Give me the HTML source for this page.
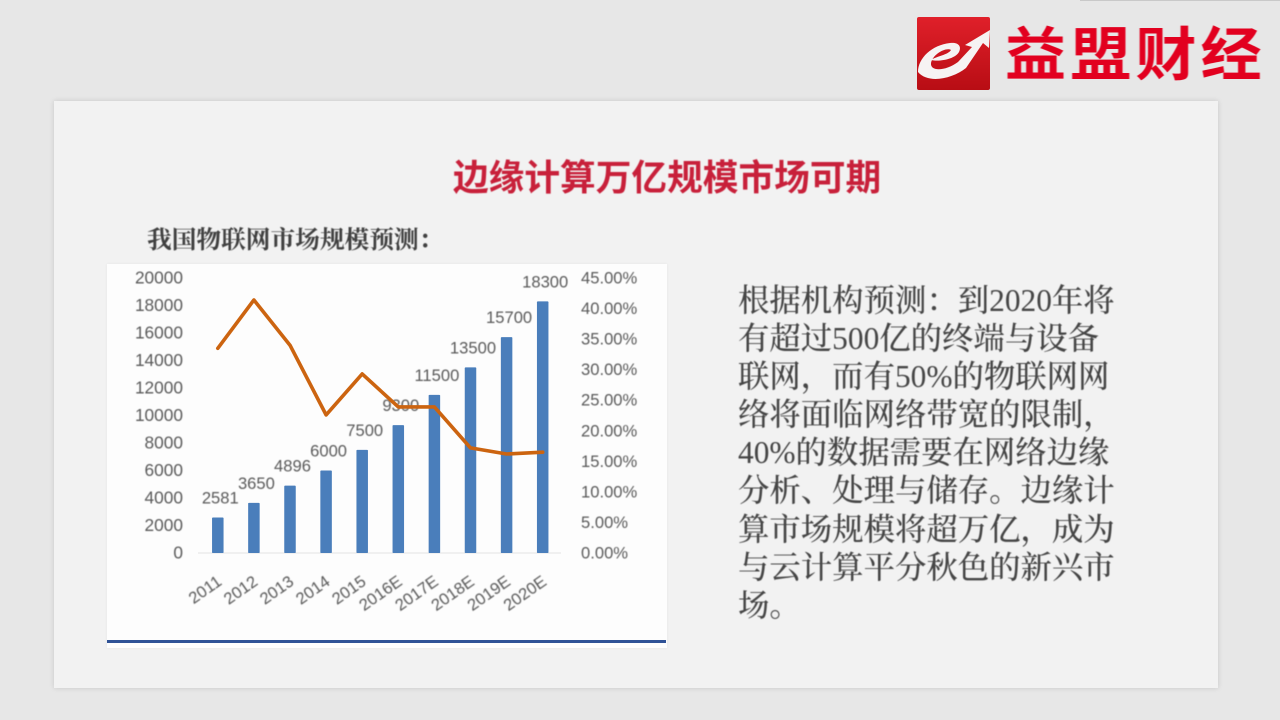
<!DOCTYPE html>
<html lang="zh">
<head>
<meta charset="utf-8">
<title>边缘计算万亿规模市场可期</title>
<style>
html,body{margin:0;padding:0;width:1280px;height:720px;overflow:hidden;background:#e7e7e7}
body{position:relative;font-family:"Liberation Sans","Noto Sans CJK SC",sans-serif}
.abs{position:absolute}
#panel{left:54px;top:101px;width:1164px;height:587px;background:#f2f2f2;box-shadow:0 0 5px rgba(0,0,0,.14)}
#topbar{left:1080px;top:0;width:200px;height:1px;background:#c9c9c9}
#slide-title{left:453px;top:154px;width:440px;font-size:35.7px;line-height:48px;font-weight:700;color:#c8203a;white-space:nowrap;filter:blur(.5px)}
#chart-title{left:147px;top:225px;font-family:"Liberation Serif","Noto Serif CJK SC",serif;font-size:24.7px;line-height:32px;font-weight:700;color:#404040;white-space:nowrap;filter:blur(.6px)}
#chart-bg{left:107px;top:264px;width:560px;height:384px;background:#fdfdfd;box-shadow:0 0 3px rgba(0,0,0,.06)}
#body-text{left:738px;top:282px;width:400px;font-family:"Liberation Serif","Noto Serif CJK SC",serif;font-size:31.4px;line-height:38.1px;color:#454545;font-weight:500;filter:blur(.55px)}
#body-text div{white-space:nowrap}
#chart{left:0;top:0}
#logo{left:916px;top:16px}
#logo-text{left:1005px;top:24px;font-size:59px;line-height:64px;font-weight:700;color:#e2001f;white-space:nowrap;letter-spacing:4px;filter:blur(.4px);transform-origin:0 0;transform:scale(1.035,.98)}
</style>
</head>
<body>
<div class="abs" id="topbar"></div>
<div class="abs" id="panel"></div>

<svg class="abs" id="logo" width="76" height="76" viewBox="0 0 76 76">
  <defs>
    <linearGradient id="logoRed" x1="0" y1="0" x2="0" y2="1">
      <stop offset="0" stop-color="#e0202a"/><stop offset="1" stop-color="#b80d14"/>
    </linearGradient>
  </defs>
  <rect x="1" y="1" width="73" height="73" rx="2" fill="url(#logoRed)"/>
  <path d="M2 56 C2 42 16 29 34 27 C42 26 46 30 43 36 C39 43 24 46 15 44 C21 40 32 39 35 34 C30 31 17 38 15 47 C14 56 30 55 42 46 L56 31 L49 29 L74 14 L73 32 L67 27 L50 52 C36 63 12 68 2 56 Z" fill="#f6f3f3"/>
</svg>
<div class="abs" id="logo-text">益盟财经</div>

<div class="abs" id="slide-title">边缘计算万亿规模市场可期</div>
<div class="abs" id="chart-title">我国物联网市场规模预测：</div>
<div class="abs" id="chart-bg"></div>

<svg class="abs" id="chart" width="1280" height="720" viewBox="0 0 1280 720">
  <g id="axis-layer"></g>
  <g id="bar-layer"></g>
  <g id="label-layer"></g>
  <g id="line-layer"></g>
  <rect x="107" y="640" width="559" height="3" fill="#2f5296"></rect>
</svg>

<div class="abs" id="body-text">
  <div>根据机构预测：到2020年将</div>
  <div>有超过500亿的终端与设备</div>
  <div>联网，而有50%的物联网网</div>
  <div>络将面临网络带宽的限制，</div>
  <div>40%的数据需要在网络边缘</div>
  <div>分析、处理与储存。边缘计</div>
  <div>算市场规模将超万亿，成为</div>
  <div>与云计算平分秋色的新兴市</div>
  <div>场。</div>
</div>

<script>
const categories = ['2011','2012','2013','2014','2015','2016E','2017E','2018E','2019E','2020E'];
const marketSize = [2581,3650,4896,6000,7500,9300,11500,13500,15700,18300];
const growthRate = [33.5,41.4,34.0,22.6,29.3,23.9,23.9,17.2,16.2,16.5];
const leftTicks = [0,2000,4000,6000,8000,10000,12000,14000,16000,18000,20000];
const rightTicks = [0,5,10,15,20,25,30,35,40,45];

const NS = 'http://www.w3.org/2000/svg';
const plot = {step:36.1, firstCenter:217.8, bottom:553, top:278, barWidth:11.5};
const leftMax = 20000;
const rightMax = 45;

function xPos(i){ return plot.firstCenter + i*plot.step; }
function yLeft(v){ return plot.bottom - (v/leftMax)*(plot.bottom-plot.top); }
function yRight(v){ return plot.bottom - (v/rightMax)*(plot.bottom-plot.top); }

function make(tag, attrs, parent, text){
  const el = document.createElementNS(NS, tag);
  for (const k in attrs) el.setAttribute(k, attrs[k]);
  if (text !== undefined) el.textContent = text;
  parent.appendChild(el);
  return el;
}

const axisLayer = document.getElementById('axis-layer');
const barLayer = document.getElementById('bar-layer');
const labelLayer = document.getElementById('label-layer');
const lineLayer = document.getElementById('line-layer');
const fontFamily = '"Liberation Sans","Noto Sans CJK SC",sans-serif';
const textStyle = {fill:'#5a5a5a','font-family':fontFamily,'font-size':'16.6',style:'filter:blur(.6px)'};

const baseline = make('line',{x1:198,x2:561,y1:plot.bottom,y2:plot.bottom,stroke:'#e2e2e2','stroke-width':1},axisLayer);



leftTicks.forEach(function(t){
  const el = make('text',Object.assign({x:183,y:yLeft(t)+5.5,'text-anchor':'end'},textStyle,{'font-size':'17.3'}),axisLayer,String(t));
  
  
});

rightTicks.forEach(function(t){
  const el = make('text',Object.assign({x:581,y:yRight(t)+5.5,'text-anchor':'start'},textStyle),axisLayer,t.toFixed(2)+'%');
  
  
});

categories.forEach(function(c,i){
  const x = xPos(i)+5;
  const y = 584;
  const el = make('text',Object.assign({x:x,y:y,'text-anchor':'end',transform:'rotate(-35 '+x+' '+y+')'},textStyle),axisLayer,c);
  
  
});

marketSize.forEach(function(v,i){
  const top = yLeft(v);
  const bar = make('rect',{x:xPos(i)-plot.barWidth/2,y:top,width:plot.barWidth,height:plot.bottom-top,fill:'#4a7ebb',rx:0.8},barLayer);
  
  
  const label = make('text',Object.assign({x:xPos(i)+2.5,y:top-14,'text-anchor':'middle'},textStyle),labelLayer,String(v));
  
  
});

const linePoints = growthRate.map(function(v,i){ return xPos(i)+'  '+yRight(v); }).join(' L ');
const growthLine = make('path',{d:'M '+linePoints,fill:'none',stroke:'#cc6410','stroke-width':3.6,'stroke-linejoin':'round','stroke-linecap':'round'},lineLayer);


</script>
</body>
</html>
